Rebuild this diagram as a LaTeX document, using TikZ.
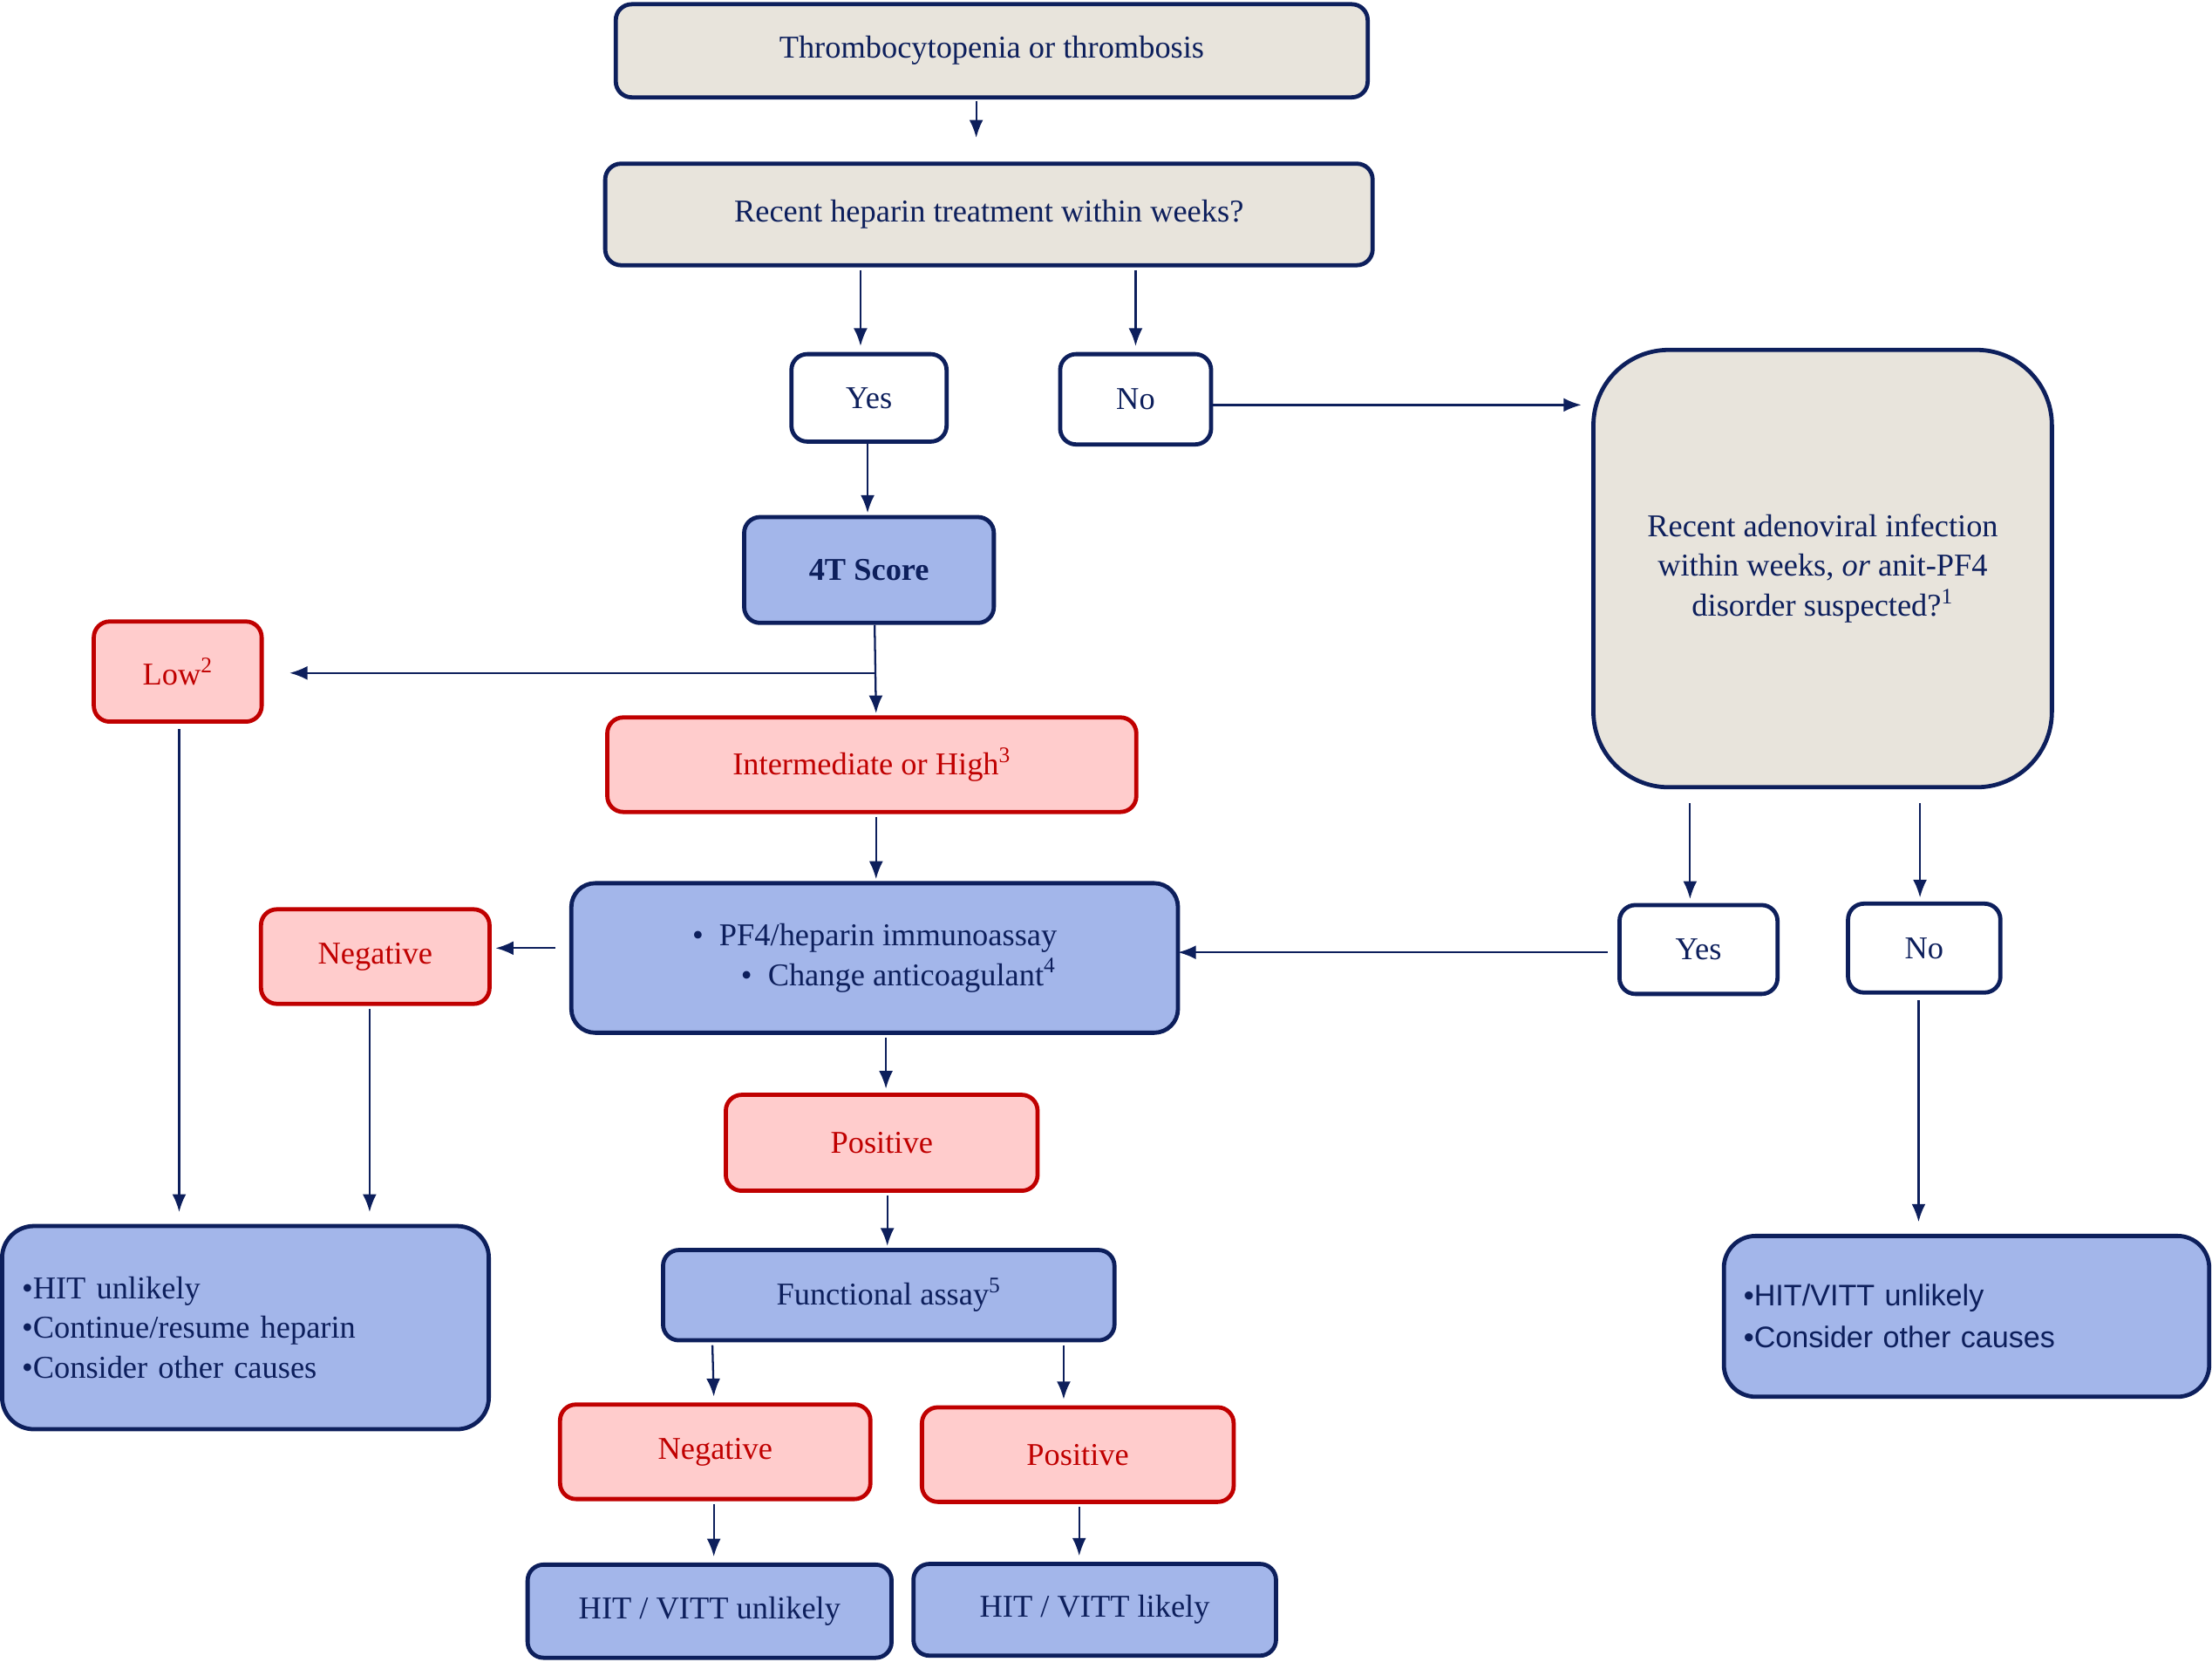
\documentclass[tikz,border=0pt]{standalone}
\usepackage{fontspec}
\setmainfont{Liberation Serif}
\newfontfamily\sansf{Liberation Sans}
\usetikzlibrary{arrows.meta}
\definecolor{navy}{HTML}{0D1F5C}
\definecolor{beige}{HTML}{E8E4DC}
\definecolor{bluef}{HTML}{A3B6EA}
\definecolor{pinkf}{HTML}{FFCCCC}
\definecolor{redd}{HTML}{C00000}
\tikzset{
 x=0.025cm,y=-0.025cm,
 base/.style={rounded corners=8pt,line width=2.1pt,draw=navy,text=navy,font=\fontsize{16}{20}\selectfont,align=center,inner sep=0pt},
 beigebox/.style={base,fill=beige},
 whitebox/.style={base,fill=white},
 bluebox/.style={base,fill=bluef},
 pinkbox/.style={base,fill=pinkf,draw=redd,text=redd},
 arr/.style={draw=navy,line width=1pt,-{Latex[length=9pt,width=7pt]}},
}
\newcommand{\bx}[5]{\node[#1,minimum width=#4*0.025cm,minimum height=#5*0.025cm] (#2) at #3}
\begin{document}
\begin{tikzpicture}
\useasboundingbox (0,0) rectangle (1568,1178);
\bx{beigebox}{n1}{(703,36)}{533}{66} {Thrombocytopenia or thrombosis};
\bx{beigebox}{n2}{(701,152)}{544}{72} {Recent heparin treatment within weeks?};
\bx{whitebox}{yes}{(616,282)}{110}{62} {Yes};
\bx{whitebox}{no}{(805,283)}{107}{64} {No};
\bx{beigebox,rounded corners=38pt}{big}{(1292,403)}{325}{310} {Recent adenoviral infection\\within weeks, \textit{or} anit-PF4\\disorder suspected?\textsuperscript{1}};
\bx{bluebox}{t4}{(616,404)}{177}{75} {\textbf{4T Score}};
\bx{pinkbox}{low}{(126,476)}{119}{71} {Low\textsuperscript{2}};
\bx{pinkbox}{inter}{(618,542)}{375}{67} {Intermediate or High\textsuperscript{3}};
\bx{bluebox,rounded corners=12pt}{pf4}{(620,679)}{430}{106} {\textbullet\ \ PF4/heparin immunoassay\\\hspace*{1.5em}\textbullet\ \ Change anticoagulant\textsuperscript{4}};
\bx{pinkbox}{neg}{(266,678)}{162}{67} {Negative};
\bx{whitebox}{yes2}{(1204,673)}{112}{63} {Yes};
\bx{whitebox}{no2}{(1364,672)}{108}{63} {No};
\bx{pinkbox}{pos}{(625,810)}{221}{68} {Positive};
\bx{bluebox,rounded corners=16pt,align=left,text width=317*0.025cm}{hitl}{(174,941)}{345}{144} {\textbullet HIT unlikely\\\textbullet Continue/resume heparin\\\textbullet Consider other causes};
\bx{bluebox}{func}{(630,918)}{320}{64} {Functional assay\textsuperscript{5}};
\bx{bluebox,rounded corners=16pt,align=left,text width=316*0.025cm,font=\sansf\fontsize{15}{21}\selectfont}{hitr}{(1394,933)}{344}{114} {\textbullet HIT/VITT unlikely\\\textbullet Consider other causes};
\bx{pinkbox}{neg2}{(507,1029)}{220}{67} {Negative};
\bx{pinkbox}{pos2}{(764,1031)}{221}{67} {Positive};
\bx{bluebox}{r1}{(503,1142)}{258}{66} {HIT / VITT unlikely};
\bx{bluebox}{r2}{(776,1141)}{257}{65} {HIT / VITT likely};
% arrows
\draw[arr] (n1.south -| 692,0) ++(0,1) -- ([yshift=12pt]n2.north -| 692,0);
\draw[arr] (n2.south -| 610,0) ++(0,2) -- ([yshift=3pt]yes.north -| 610,0);
\draw[arr] (n2.south -| 805,0) ++(0,2) -- ([yshift=3pt]no.north);
\draw[arr] (no.east |- 0,287) -- ([xshift=-5pt]big.west |- 0,287);
\draw[arr] (yes.south -| 615,0) -- ([yshift=1pt]t4.north -| 615,0);
\draw[arr] (t4.south -| 620,0) -- ([yshift=1pt]inter.north -| 621,0);
\draw[arr] (620,477) -- ([xshift=13pt]low.east |- 0,477);
\draw[arr] (inter.south -| 621,0) ++(0,2) -- ([yshift=1pt]pf4.north -| 621,0);
\draw[arr] ([xshift=-7pt]pf4.west |- 0,672) -- ([xshift=2pt]neg.east |- 0,672);
\draw[arr] (big.south -| 1198,0) ++(0,10) -- ([yshift=2pt]yes2.north -| 1198,0);
\draw[arr] (big.south -| 1361,0) ++(0,10) -- ([yshift=2pt]no2.north -| 1361,0);
\draw[arr] ([xshift=-5pt]yes2.west |- 0,675) -- ([xshift=-1pt]pf4.east |- 0,675);
\draw[arr] (pf4.south -| 628,0) ++(0,2) -- ([yshift=2pt]pos.north -| 628,0);
\draw[arr] (pos.south -| 629,0) ++(0,2) -- ([yshift=1pt]func.north -| 629,0);
\draw[arr] (low.south -| 127,0) ++(0,4) -- ([yshift=6pt]hitl.north -| 127,0);
\draw[arr] (neg.south -| 262,0) ++(0,2) -- ([yshift=6pt]hitl.north -| 262,0);
\draw[arr] (no2.south -| 1360,0) ++(0,4) -- ([yshift=6pt]hitr.north -| 1360,0);
\draw[arr] (func.south -| 505,0) ++(0,2) -- ([yshift=3pt]neg2.north -| 506,0);
\draw[arr] (func.south -| 754,0) ++(0,2) -- ([yshift=3pt]pos2.north -| 754,0);
\draw[arr] (neg2.south -| 506,0) ++(0,2) -- ([yshift=3pt]r1.north -| 506,0);
\draw[arr] (pos2.south -| 765,0) ++(0,2) -- ([yshift=3pt]r2.north -| 765,0);
\end{tikzpicture}
\end{document}
